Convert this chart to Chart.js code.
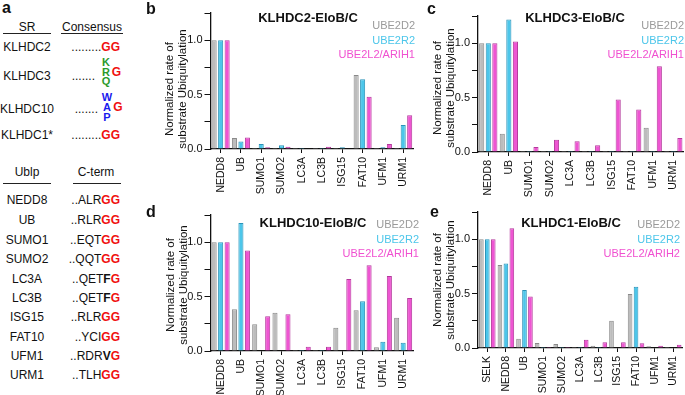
<!DOCTYPE html>
<html><head><meta charset="utf-8">
<script src="https://cdn.jsdelivr.net/npm/chart.js@4.4.0/dist/chart.umd.min.js"></script>
<style>
html,body{margin:0;padding:0;background:#fff;width:685px;height:395px;overflow:hidden;position:relative;font-family:"Liberation Sans",Arial,sans-serif;color:#111;}
.t{position:absolute;white-space:nowrap;line-height:1;}
.c{transform:translate(-50%,-50%);}
.r{transform:translate(-100%,-50%);}
.hl{position:absolute;height:1px;background:#222;}
.red{color:#f01010;font-weight:bold;}
.b{font-weight:bold;}
canvas{position:absolute;}
.yt{position:absolute;white-space:nowrap;text-align:center;font-size:11.5px;line-height:13px;color:#111;transform:translate(-50%,-50%) rotate(-90deg);}
</style></head><body>
<div id="pa"></div>
<canvas id="cd" width="280" height="195" style="left:140px;top:200px;width:280px;height:195px"></canvas>
<canvas id="ce" width="275" height="195" style="left:415px;top:200px;width:275px;height:195px"></canvas>
<canvas id="cb" width="280" height="204" style="left:140px;top:0px;width:280px;height:204px"></canvas>
<canvas id="cc" width="275" height="204" style="left:415px;top:0px;width:275px;height:204px"></canvas>
<script>
// ---- data ----
const catsStd = ["NEDD8","UB","SUMO1","SUMO2","LC3A","LC3B","ISG15","FAT10","UFM1","URM1"];
const catsE = ["SELK","NEDD8","UB","SUMO1","SUMO2","LC3A","LC3B","ISG15","FAT10","UFM1","URM1"];
const seriesNames = ["UBE2D2","UBE2R2","UBE2L2/ARIH1"];
const seriesNamesE = ["UBE2D2","UBE2R2","UBE2L2/ARIH2"];
const yTickLabels = ["0.0","0.5","1.0"];
const yTitle = ["Normalized rate of","substrate Ubiquitylation"];

const b_D2 = [1.0,0.10,0.01,0.01,0.01,0.01,0.01,0.68,0.01,0.01];
const b_R2 = [1.0,0.07,0.045,0.035,0.01,0.01,0.015,0.64,0.015,0.22];
const b_L2 = [1.0,0.105,0.015,0.02,0.005,0.02,0.005,0.48,0.045,0.31];

const c_D2 = [1.0,0.168,0.01,0.01,0.01,0.01,0.01,0.01,0.223,0.01];
const c_R2 = [1.0,1.217,0.01,0.01,0.01,0.01,0.01,0.01,0.01,0.01];
const c_L2 = [1.0,1.015,0.046,0.113,0.098,0.061,0.483,0.39,0.789,0.128];

const d_D2 = [1.0,0.384,0.247,0.351,0.01,0.01,0.213,0.375,0.034,0.305];
const d_R2 = [1.0,1.177,0.005,0.005,0.01,0.01,0.005,0.457,0.085,0.076];
const d_L2 = [1.0,0.924,0.32,0.338,0.04,0.04,0.662,0.787,0.689,0.488];

const e_D2 = [1.0,0.762,0.085,0.046,0.037,0.01,0.02,0.25,0.497,0.015,0.01];
const e_R2 = [1.0,0.777,0.534,0.01,0.01,0.01,0.01,0.005,0.564,0.005,0.005];
const e_L2 = [1.0,1.10,0.473,0.01,0.01,0.076,0.052,0.052,0.043,0.02,0.03];

const srRows = ["KLHDC2","KLHDC3","KLHDC10","KLHDC1*"];
const ublNames = ["NEDD8","UB","SUMO1","SUMO2","LC3A","LC3B","ISG15","FAT10","UFM1","URM1"];
const ublTerm = [["..ALR","","GG"],["..RLR","","GG"],["..EQT","","GG"],["..QQT","","GG"],["..QET","F","G"],["..QET","F","G"],["..RLR","","GG"],["..YCI","","GG"],["..RDR","V","G"],["..TLH","","GG"]];

// ---- panel a ----
const pa = document.getElementById('pa');
function add(html, x, y, cls, style){ const d=document.createElement('div'); d.className='t '+(cls||''); d.style.left=x+'px'; d.style.top=y+'px'; d.style.fontSize='12px'; if(style) d.style.cssText+=style; d.innerHTML=html; pa.appendChild(d); return d;}
function line(x,y,w){const d=document.createElement('div');d.className='hl';d.style.left=x+'px';d.style.top=y+'px';d.style.width=w+'px';pa.appendChild(d);}
add('a',2,8,'b','font-size:16px;transform:translate(0,-50%)');
add('SR',27,27,'c'); line(3,33,48);
add('Consensus',92,27,'c'); line(61,33,62);
add(srRows[0],27,47,'c'); add('.........<span class="red">GG</span>',120,47,'r');
add(srRows[1],27,76,'c'); add('.......',95,76,'r');
add('K',106,62,'c b','font-size:11px;color:#2a9a2a'); add('R',106,71.5,'c b','font-size:11px;color:#2a9a2a'); add('Q',106,81,'c b','font-size:11px;color:#2a9a2a');
add('G',116.5,71.5,'c red');
add(srRows[2],27,109,'c'); add('.......',98,109,'r');
add('W',107,97,'c b','font-size:11px;color:#1a1aee'); add('A',107,107,'c b','font-size:11px;color:#1a1aee'); add('P',107,117,'c b','font-size:11px;color:#1a1aee');
add('G',118,107,'c red');
add(srRows[3],27,135,'c'); add('.........<span class="red">GG</span>',120,135,'r');
add('Ublp',27,172,'c'); line(3,183,48);
add('C-term',96,172,'c'); line(73,183,48);
const rowY=[200,219.5,239.5,259,278.5,297.5,317,337,356,375];
ublNames.forEach((n,i)=>{ add(n,27,rowY[i],'c'); const t=ublTerm[i]; add(t[0]+(t[1]?'<span class="b">'+t[1]+'</span>':'')+'<span class="red">'+t[2]+'</span>',120,rowY[i],'r'); });

// ---- charts ----
const colFill=['#bcbcbc','#4cc6ea','#ee55d2'];
const colBorder=['#8a8a8a','#2b93b8','#b43a9c'];
const legCol=['#9a9a9a','#4cc6ea','#f050d0'];
const FONT='"Liberation Sans", Arial, sans-serif';

function makeChart(id, cats, d2, r2, l2, cfg){
  const ds=[d2,r2,l2].map((v,i)=>({data:v,backgroundColor:colFill[i],borderColor:colBorder[i],borderWidth:{left:1,right:1,top:1,bottom:0},borderSkipped:false,categoryPercentage:0.96,barPercentage:0.78}));
  return new Chart(document.getElementById(id),{
    type:'bar',
    data:{labels:cats,datasets:ds},
    options:{
      responsive:false,animation:false,
      layout:{padding:{left:cfg.pl,top:cfg.pt,right:cfg.pr,bottom:0}},
      plugins:{legend:{display:false},tooltip:{enabled:false}},
      scales:{
        x:{offset:true,grid:{display:true,drawOnChartArea:false,drawTicks:true,tickLength:4,color:'#111',offset:false},
           border:{display:true,color:'#111',width:1.3},
           ticks:{color:'#111',font:{family:FONT,size:10.5},maxRotation:90,minRotation:90,padding:4,autoSkip:false},
           afterFit:(s)=>{s.height=cfg.xh;}},
        y:{min:0,max:1.25,grid:{display:true,drawOnChartArea:false,drawTicks:true,tickLength:6,color:'#111'},
           border:{display:true,color:'#111',width:1.3},
           ticks:{stepSize:0.25,color:'#111',font:{family:FONT,size:11},padding:2,
             callback:(v)=>{const k=Math.round(v*4); return (k%2===0 && k<=4)? yTickLabels[k/2] : '';}},
           afterFit:(s)=>{s.width=cfg.yw;}}
      }
    }
  });
}
makeChart('cb',catsStd,b_D2,b_R2,b_L2,{pl:20,pt:13,pr:4,xh:55,yw:50.5});
makeChart('cc',catsStd,c_D2,c_R2,c_L2,{pl:17,pt:16,pr:2,xh:52,yw:46});
makeChart('cd',catsStd,d_D2,d_R2,d_L2,{pl:20,pt:15,pr:5,xh:44,yw:50.5});
makeChart('ce',catsE,e_D2,e_R2,e_L2,{pl:17,pt:12,pr:4,xh:47,yw:46});

// ---- titles, legends, panel letters ----
function ov(html,x,y,cls,style){const d=document.createElement('div');d.className='t '+(cls||'');d.style.left=x+'px';d.style.top=y+'px';d.innerHTML=html;if(style)d.style.cssText+=style;document.body.appendChild(d);return d;}
function legend(names,xr,y){names.forEach((n,i)=>{ov(n,xr,y+i*14.5,'r','font-size:11px;color:'+legCol[i]);});}
function ytitle(x,y){const d=document.createElement('div');d.className='yt';d.style.left=x+'px';d.style.top=y+'px';d.innerHTML=yTitle.join('<br>');document.body.appendChild(d);}
ov('b',146,9,'b','font-size:16px;transform:translate(0,-50%)');
ov('c',427,9,'b','font-size:16px;transform:translate(0,-50%)');
ov('d',146,212,'b','font-size:16px;transform:translate(0,-50%)');
ov('e',430,212,'b','font-size:16px;transform:translate(0,-50%)');
ov('KLHDC2-EloB/C',308,17,'c b','font-size:13px');
ov('KLHDC3-EloB/C',575,17,'c b','font-size:13px');
ov('KLHDC10-EloB/C',313,222,'c b','font-size:13px');
ov('KLHDC1-EloB/C',571,222,'c b','font-size:13px');
ytitle(176,89); ytitle(443.5,88); ytitle(177,284.5); ytitle(443.5,280);
legend(seriesNames,415,25);
legend(seriesNames,684,25);
legend(seriesNames,419,224);
legend(seriesNamesE,680,224);
</script>
</body></html>
